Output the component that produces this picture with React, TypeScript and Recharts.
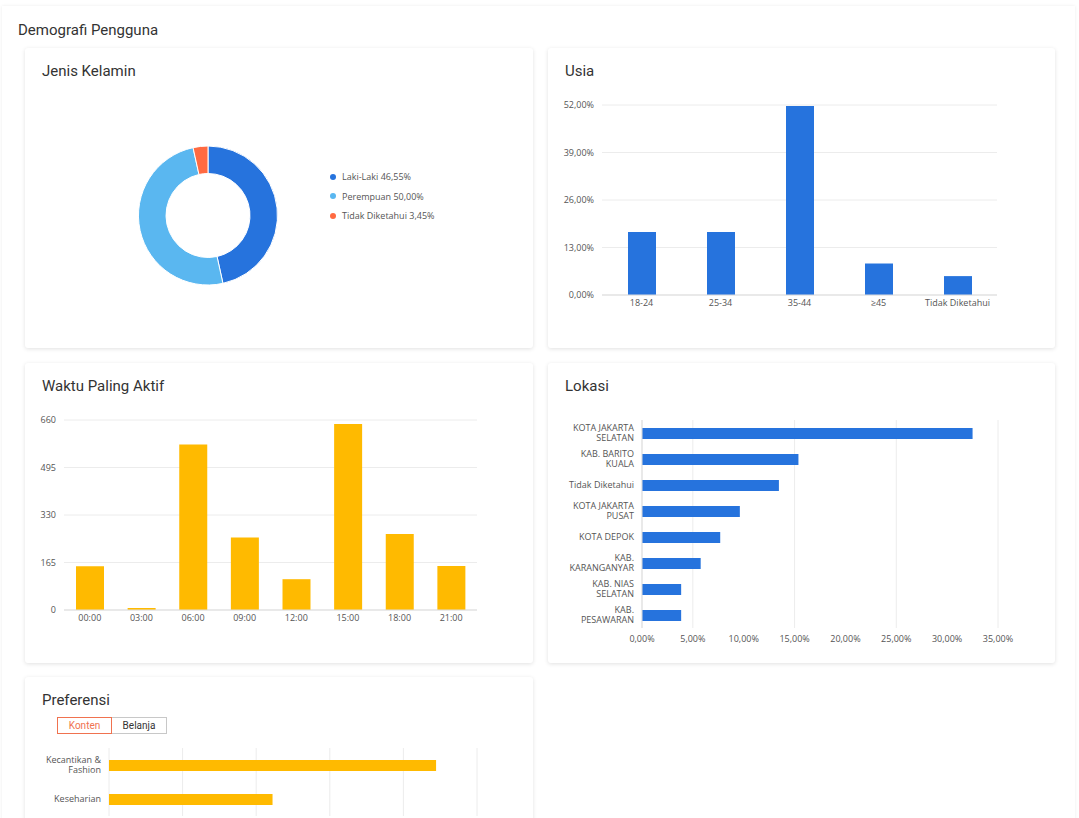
import React from "react";
import {
  PieChart, Pie, Cell, Legend,
  BarChart, Bar, XAxis, YAxis, CartesianGrid,
} from "recharts";

// ── data ────────────────────────────────────────────────────────────────
const genderLabels = ["Laki-Laki", "Perempuan", "Tidak Diketahui"];
const genderShares = [46.55, 50.0, 3.45];
const genderColors = ["#2673DD", "#5AB7F0", "#FF6A41"];

const ageGroups = ["18-24", "25-34", "35-44", "≥45", "Tidak Diketahui"];
const ageShares = [17.24, 17.24, 51.72, 8.62, 5.17];
const ageTicks = [0, 13, 26, 39, 52];

const hourSlots = ["00:00", "03:00", "06:00", "09:00", "12:00", "15:00", "18:00", "21:00"];
const activeUsers = [152, 7, 575, 252, 107, 646, 264, 153];
const hourTicks = [0, 165, 330, 495, 660];

const locations = [
  "KOTA JAKARTA\nSELATAN",
  "KAB. BARITO\nKUALA",
  "Tidak Diketahui",
  "KOTA JAKARTA\nPUSAT",
  "KOTA DEPOK",
  "KAB.\nKARANGANYAR",
  "KAB. NIAS\nSELATAN",
  "KAB.\nPESAWARAN",
];
const locationShares = [32.5, 15.38, 13.46, 9.62, 7.69, 5.77, 3.85, 3.85];
const locationTicks = [0, 5, 10, 15, 20, 25, 30, 35];

const contentTopics = ["Kecantikan &\nFashion", "Keseharian"];
const contentShares = [44.44, 22.22];
const contentTicks = [0, 10, 20, 30, 40, 50];

// ── helpers ─────────────────────────────────────────────────────────────
const BLUE = "#2673DD";
const YELLOW = "#FFBA00";
const GRID = "#ECECEC";
const TICK = { fontSize: 9, fill: "#555" };

const pct = (v: number) => v.toFixed(2).replace(".", ",") + "%";

// y-axis label that breaks on "\n"
function MultiLineTick({ x, y, payload }: any) {
  const lines = String(payload.value).split("\n");
  const lh = 10;
  const y0 = y - ((lines.length - 1) * lh) / 2 + 3;
  return (
    <text textAnchor="end" fontSize={9} fill="#555">
      {lines.map((l, i) => (
        <tspan key={i} x={x} y={y0 + i * lh}>{l}</tspan>
      ))}
    </text>
  );
}

// ticks still feed the grid, but draw no label
const NoLabel = () => <g />;

function GenderLegend({ payload }: any) {
  return (
    <div>
      {payload.map((p: any, i: number) => (
        <div key={i} style={{ display: "flex", alignItems: "center", height: 19.5, fontSize: 9, color: "#555" }}>
          <span style={{ width: 6, height: 6, borderRadius: 3, background: p.color, marginRight: 6 }} />
          {p.value} {pct(genderShares[i])}
        </div>
      ))}
    </div>
  );
}

const cardStyle = (left: number, top: number, w: number, h: number): React.CSSProperties => ({
  position: "absolute",
  left, top, width: w, height: h,
  background: "#fff",
  borderRadius: 3,
  boxShadow: "0 1px 4px rgba(0,0,0,0.12)",
  overflow: "hidden",
});

const titleStyle: React.CSSProperties = {
  position: "absolute", left: 17, top: 14,
  fontSize: 15, lineHeight: "18px", color: "#333",
};

const chartBox: React.CSSProperties = {
  position: "absolute", left: 0, top: 0,
  fontFamily: "'Open Sans', sans-serif",
};

export default function App() {
  const genderData = genderLabels.map((name, i) => ({ name, value: genderShares[i] }));
  const ageData = ageGroups.map((name, i) => ({ name, value: ageShares[i] }));
  const hourData = hourSlots.map((name, i) => ({ name, value: activeUsers[i] }));
  const locationData = locations.map((name, i) => ({ name, value: locationShares[i] }));
  const contentData = contentTopics.map((name, i) => ({ name, value: contentShares[i] }));

  return (
    <div style={{ position: "fixed", left: 0, top: 0, width: 1079, height: 818, overflow: "hidden", background: "#fff", fontFamily: "Roboto, sans-serif" }}>
      <div style={{ position: "absolute", left: 2, top: 6, width: 1073, height: 840, boxShadow: "0 0 3px rgba(0,0,0,0.08)" }} />
      <div style={{ position: "absolute", left: 18, top: 21, fontSize: 15, lineHeight: "18px", color: "#333" }}>
        Demografi Pengguna
      </div>

      {/* gender donut */}
      <div style={cardStyle(25, 48, 508, 300)}>
        <div style={titleStyle}>Jenis Kelamin</div>
        <div style={chartBox}>
          <PieChart width={508} height={300}>
            <Pie
              data={genderData}
              dataKey="value"
              nameKey="name"
              cx={178}
              cy={162.5}
              innerRadius={42}
              outerRadius={69.5}
              startAngle={90}
              endAngle={-270}
              stroke="#fff"
              strokeWidth={1}
              isAnimationActive={false}
            >
              {genderData.map((_, i) => (
                <Cell key={i} fill={genderColors[i]} />
              ))}
            </Pie>
            <Legend
              layout="vertical"
              content={<GenderLegend />}
              wrapperStyle={{ left: 305, top: 119, width: 140 }}
            />
          </PieChart>
        </div>
      </div>

      {/* age columns */}
      <div style={cardStyle(548, 48, 507, 300)}>
        <div style={titleStyle}>Usia</div>
        <div style={chartBox}>
          <BarChart width={507} height={300} data={ageData} margin={{ top: 57, right: 58, bottom: 23, left: 0 }}>
            <CartesianGrid vertical={false} stroke={GRID} />
            <XAxis dataKey="name" tick={TICK} tickLine={false} tickSize={3} tickMargin={2} stroke="#DDD" interval={0} />
            <YAxis width={54} domain={[0, 52]} ticks={ageTicks} tickFormatter={pct} tick={TICK} axisLine={false} tickLine={false} />
            <Bar dataKey="value" fill={BLUE} barSize={28} isAnimationActive={false} />
          </BarChart>
        </div>
      </div>

      {/* active hours */}
      <div style={cardStyle(25, 363, 508, 300)}>
        <div style={titleStyle}>Waktu Paling Aktif</div>
        <div style={chartBox}>
          <BarChart width={508} height={300} data={hourData} margin={{ top: 57, right: 56, bottom: 23, left: 0 }}>
            <CartesianGrid vertical={false} stroke={GRID} />
            <XAxis dataKey="name" tick={TICK} tickLine={false} tickSize={3} tickMargin={2} stroke="#DDD" interval={0} />
            <YAxis width={39} domain={[0, 660]} ticks={hourTicks} tick={TICK} axisLine={false} tickLine={false} />
            <Bar dataKey="value" fill={YELLOW} barSize={28} isAnimationActive={false} />
          </BarChart>
        </div>
      </div>

      {/* location bars */}
      <div style={cardStyle(548, 363, 507, 300)}>
        <div style={titleStyle}>Lokasi</div>
        <div style={chartBox}>
          <BarChart width={507} height={300} layout="vertical" data={locationData} margin={{ top: 57, right: 57, bottom: 5, left: 0 }}>
            <CartesianGrid horizontal={false} stroke={GRID} />
            <XAxis type="number" domain={[0, 35]} ticks={locationTicks} tickFormatter={pct} tick={TICK} axisLine={false} tickLine={false} />
            <YAxis type="category" dataKey="name" width={94} tick={<MultiLineTick />} tickLine={false} stroke="#DDD" interval={0} />
            <Bar dataKey="value" fill={BLUE} barSize={11} isAnimationActive={false} />
          </BarChart>
        </div>
      </div>

      {/* preferences (value axis sits below the fold) */}
      <div style={cardStyle(25, 677, 508, 300)}>
        <div style={titleStyle}>Preferensi</div>
        <div style={{ position: "absolute", left: 32, top: 40, display: "flex", fontSize: 10, lineHeight: "15px" }}>
          <span style={{ width: 53, textAlign: "center", border: "1px solid #F0724F", color: "#F0724F" }}>Konten</span>
          <span style={{ width: 54, textAlign: "center", border: "1px solid #C8C8C8", borderLeft: "none", color: "#333" }}>Belanja</span>
        </div>
        <div style={chartBox}>
          <BarChart width={508} height={300} layout="vertical" data={contentData} margin={{ top: 71, right: 56, bottom: 131, left: 0 }}>
            <CartesianGrid horizontal={false} stroke={GRID} />
            <XAxis type="number" domain={[0, 50]} ticks={contentTicks} tick={<NoLabel />} axisLine={false} tickLine={false} />
            <YAxis type="category" dataKey="name" width={84} tick={<MultiLineTick />} tickLine={false} axisLine={false} interval={0} />
            <Bar dataKey="value" fill={YELLOW} barSize={11} isAnimationActive={false} />
          </BarChart>
        </div>
      </div>
    </div>
  );
}
